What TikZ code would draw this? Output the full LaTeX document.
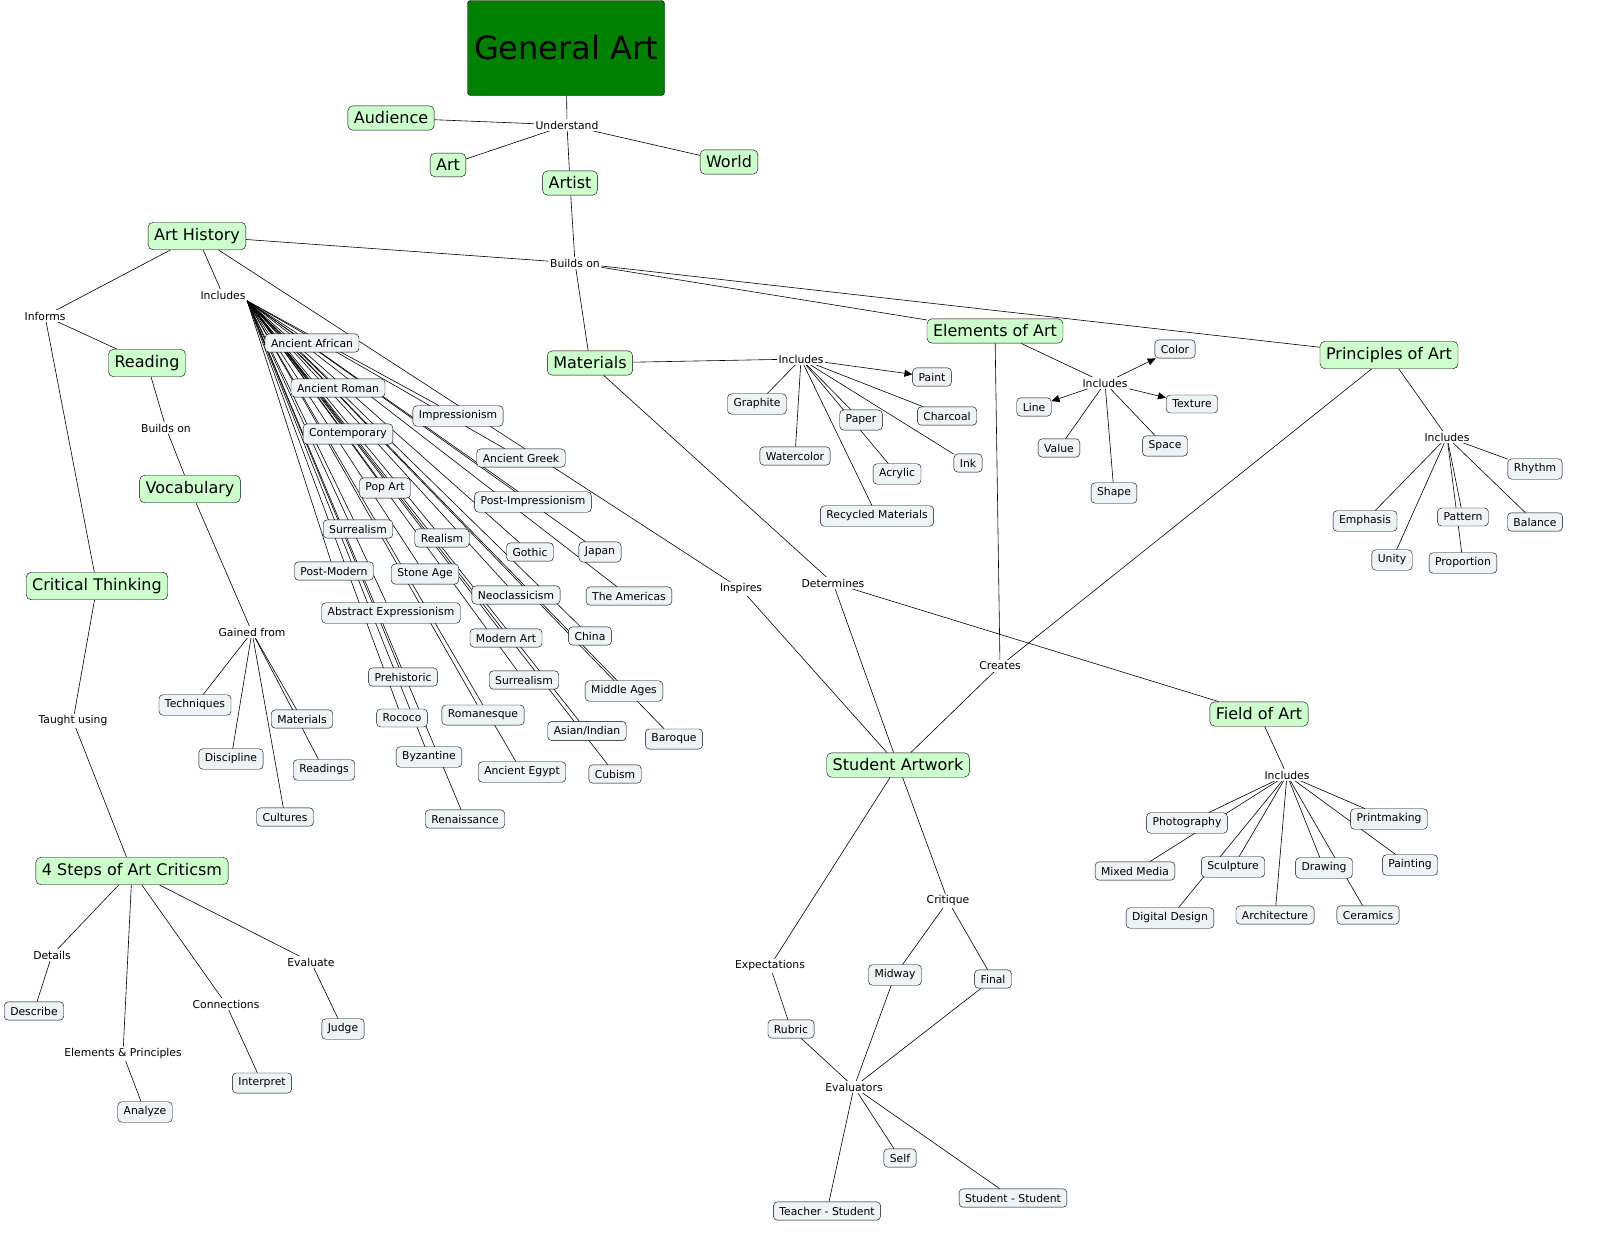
\documentclass[tikz,border=0pt]{standalone}
\usepackage{fontspec}
\setmainfont{DejaVu Sans}
\usetikzlibrary{arrows.meta}
\pgfdeclarelayer{bg}\pgfsetlayers{bg,main}
\definecolor{dg}{HTML}{008000}
\definecolor{lg}{HTML}{CCFFCC}
\definecolor{sn}{HTML}{EEF3F5}
\begin{document}
\begin{tikzpicture}[x=1pt,y=-1pt,
 s/.style={draw,rounded corners=4pt,fill=sn,font=\fontsize{10.8}{13}\selectfont,inner xsep=6pt,inner ysep=5pt},
 m/.style={draw,rounded corners=5pt,fill=lg,font=\fontsize{16}{19}\selectfont,inner xsep=6pt,inner ysep=6pt},
 l/.style={fill=white,font=\fontsize{10.8}{13}\selectfont,inner sep=1.5pt},
 e/.style={draw,line width=0.6pt},
 a/.style={e,-{Triangle[length=8pt,width=7pt]}}]
\useasboundingbox (0,0) rectangle (1602,1253);
\node[draw,rounded corners=3pt,fill=dg,minimum width=197pt,minimum height=95pt,font=\fontsize{32}{36}\selectfont] (ga) at (566,48) {General Art};
\node[l] (und) at (567,125) {Understand};
\node[m] (aud) at (391,118) {Audience};
\node[m] (art) at (448,165) {Art};
\node[m] (wor) at (729,162) {World};
\node[m] (ati) at (570,183) {Artist};
\node[l] (bo) at (575,263) {Builds on};
\node[m] (ah) at (197,236) {Art History};
\node[m] (mat) at (590,363) {Materials};
\node[m] (ea) at (995,331) {Elements of Art};
\node[m] (pa) at (1389,355) {Principles of Art};
\node[l] (inf) at (45,316) {Informs};
\node[m] (rd) at (147,363) {Reading};
\node[m] (ct) at (97,586) {Critical Thinking};
\node[l] (inc) at (223,295) {Includes};
\node[l] (insp) at (741,589) {Inspires};
\node[l] (bo2) at (166,428) {Builds on};
\node[m] (voc) at (190,489) {Vocabulary};
\node[l] (gf) at (252,632) {Gained from};
\node[s] (tech) at (195,705) {Techniques};
\node[s] (disc) at (231,759) {Discipline};
\node[s] (gmat) at (302,719) {Materials};
\node[s] (read) at (324,770) {Readings};
\node[s] (cult) at (285,817) {Cultures};
\node[l] (tu) at (73,721) {Taught using};
\node[m] (fs) at (132,871) {4 Steps of Art Criticsm};
\node[l] (det) at (52,955) {Details};
\node[s] (desc) at (34,1011) {Describe};
\node[l] (ep) at (123,1054) {Elements \& Principles};
\node[s] (anal) at (145,1112) {Analyze};
\node[l] (con) at (226,1004) {Connections};
\node[s] (intp) at (262,1083) {Interpret};
\node[l] (ev) at (311,962) {Evaluate};
\node[s] (jud) at (343,1029) {Judge};
\node[l] (minc) at (801,359) {Includes};
\node[s] (paint) at (932,377) {Paint};
\node[s] (graph) at (757,404) {Graphite};
\node[s] (paper) at (861,420) {Paper};
\node[s] (char) at (947,416) {Charcoal};
\node[s] (wc) at (795,456) {Watercolor};
\node[s] (acr) at (897,474) {Acrylic};
\node[s] (ink) at (968,463) {Ink};
\node[s] (rec) at (877,516) {Recycled Materials};
\node[l] (detm) at (833,583) {Determines};
\node[m] (sa) at (898,765) {Student Artwork};
\node[m] (fa) at (1259,714) {Field of Art};
\node[l] (einc) at (1105,383) {Includes};
\node[s] (col) at (1175,349) {Color};
\node[s] (lin) at (1034,407) {Line};
\node[s] (tex) at (1192,404) {Texture};
\node[s] (val) at (1059,448) {Value};
\node[s] (spa) at (1165,446) {Space};
\node[s] (sha) at (1114,493) {Shape};
\node[l] (cre) at (1000,666) {Creates};
\node[l] (pinc) at (1447,437) {Includes};
\node[s] (rhy) at (1535,469) {Rhythm};
\node[s] (emp) at (1365,521) {Emphasis};
\node[s] (pat) at (1463,517) {Pattern};
\node[s] (bal) at (1535,522) {Balance};
\node[s] (uni) at (1392,560) {Unity};
\node[s] (pro) at (1463,563) {Proportion};
\node[l] (finc) at (1287,775) {Includes};
\node[s] (pho) at (1187,823) {Photography};
\node[s] (pri) at (1389,819) {Printmaking};
\node[s] (mm) at (1135,871) {Mixed Media};
\node[s] (scu) at (1233,867) {Sculpture};
\node[s] (dra) at (1324,868) {Drawing};
\node[s] (pai) at (1410,865) {Painting};
\node[s] (dd) at (1170,918) {Digital Design};
\node[s] (arc) at (1275,915) {Architecture};
\node[s] (cer) at (1368,915) {Ceramics};
\node[l] (exp) at (770,966) {Expectations};
\node[s] (rub) at (791,1029) {Rubric};
\node[l] (evs) at (854,1087) {Evaluators};
\node[l] (cri) at (948,901) {Critique};
\node[s] (mid) at (895,975) {Midway};
\node[s] (fin) at (993,979) {Final};
\node[s] (ts) at (827,1211) {Teacher - Student};
\node[s] (self) at (900,1158) {Self};
\node[s] (ss) at (1013,1198) {Student - Student};
% art history list
\foreach \n/\x/\y/\t in {h1/312/343/Ancient African,h2/338/388/Ancient Roman,h3/458/416/Impressionism,h4/348/434/Contemporary,h5/521/458/Ancient Greek,h6/385/488/Pop Art,h7/533/502/Post-Impressionism,h8/358/529/Surrealism,h9/442/538/Realism,h10/530/552/Gothic,h11/600/552/Japan,h12/334/571/Post-Modern,h13/425/574/Stone Age,h14/516/595/Neoclassicism,h15/629/596/The Americas,h16/391/613/Abstract Expressionism,h17/506/638/Modern Art,h18/590/636/China,h19/403/677/Prehistoric,h20/524/680/Surrealism,h21/624/691/Middle Ages,h22/402/718/Rococo,h23/483/715/Romanesque,h24/587/731/{Asian/Indian},h25/674/739/Baroque,h26/429/757/Byzantine,h27/522/772/Ancient Egypt,h28/615/774/Cubism,h29/465/819/Renaissance}
 {\node[s] (\n) at (\x,\y) {\t};}
\begin{pgfonlayer}{bg}
\foreach \i in {1,...,29} {\draw[e] (inc.south east) -- (h\i);}
\foreach \a/\b in {ga/und,und/aud,und/art,und/wor,und/ati,ati/bo,bo/ah,bo/mat,bo/ea,bo/pa,ah/inf,inf/rd,inf/ct,ah/inc,ah/insp,insp/sa,rd/bo2,bo2/voc,voc/gf,gf/tech,gf/disc,gf/gmat,gf/read,gf/cult,ct/tu,tu/fs,fs/det,det/desc,fs/ep,ep/anal,fs/con,con/intp,fs/ev,ev/jud,mat/minc,minc/graph,minc/paper,minc/char,minc/wc,minc/acr,minc/ink,minc/rec,mat/detm,detm/sa,detm/fa,ea/einc,einc/val,einc/spa,einc/sha,ea/cre,pa/cre,cre/sa,pa/pinc,pinc/rhy,pinc/emp,pinc/pat,pinc/bal,pinc/uni,pinc/pro,fa/finc,finc/pho,finc/pri,finc/mm,finc/scu,finc/dra,finc/pai,finc/dd,finc/arc,finc/cer,sa/exp,exp/rub,rub/evs,sa/cri,cri/mid,cri/fin,mid/evs,fin/evs,evs/ts,evs/self,evs/ss}
 {\draw[e] (\a) -- (\b);}
\end{pgfonlayer}
\draw[a] (minc) -- (paint);
\draw[a] (einc) -- (col);
\draw[a] (einc) -- (lin);
\draw[a] (einc) -- (tex);
\end{tikzpicture}
\end{document}
